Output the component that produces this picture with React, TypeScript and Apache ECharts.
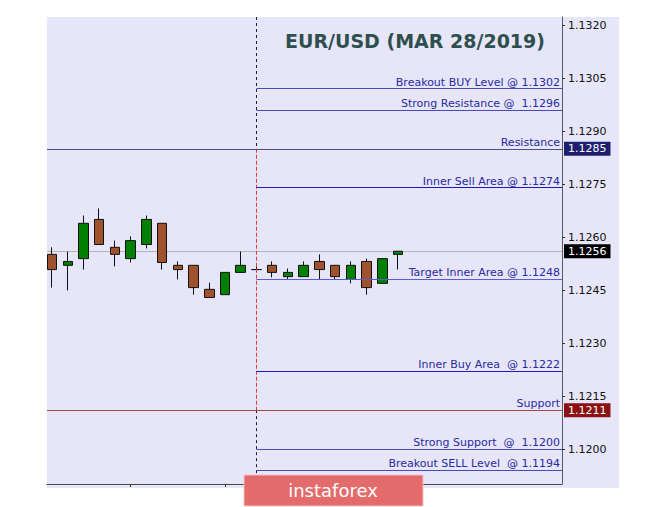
import React, { useEffect, useRef } from "react";
import * as echarts from "echarts";

// Session candles (index on the x axis, OHLC in price units)
const candleIndex = [0, 1, 2, 3, 4, 5, 6, 7, 8, 9, 10, 11, 12, 13, 14, 15, 16, 17, 18, 19, 20, 21, 22];
const opens = [1.12551, 1.1252, 1.12539, 1.1265, 1.12571, 1.12539, 1.12579, 1.12639, 1.1252, 1.1252, 1.12452, 1.12437, 1.125, 1.12508, 1.1252, 1.12488, 1.12488, 1.12531, 1.1252, 1.1248, 1.12531, 1.12469, 1.12551];
const closes = [1.12508, 1.12531, 1.12639, 1.12579, 1.12551, 1.1259, 1.1265, 1.12528, 1.12508, 1.12457, 1.12429, 1.125, 1.1252, 1.12508, 1.125, 1.125, 1.1252, 1.12508, 1.12488, 1.1252, 1.12457, 1.12539, 1.1256];
const lows = [1.12457, 1.12449, 1.12508, 1.12579, 1.12517, 1.12528, 1.12568, 1.12508, 1.1248, 1.12437, 1.12429, 1.12437, 1.125, 1.125, 1.12486, 1.1248, 1.12488, 1.1248, 1.1248, 1.12469, 1.12437, 1.12469, 1.12508];
const highs = [1.12571, 1.12559, 1.12661, 1.12681, 1.1259, 1.12602, 1.12661, 1.12639, 1.12531, 1.1252, 1.12471, 1.125, 1.12559, 1.12517, 1.12531, 1.12511, 1.12531, 1.12551, 1.1252, 1.12531, 1.12539, 1.12539, 1.1256];

// Trading levels drawn from the pivot candle to the right edge
const levelNames = [
  "Breakout BUY Level @ 1.1302",
  "Strong Resistance @  1.1296",
  "Inner Sell Area @ 1.1274",
  "Target Inner Area @ 1.1248",
  "Inner Buy Area  @ 1.1222",
  "Strong Support  @  1.1200",
  "Breakout SELL Level  @ 1.1194",
];
const levelValues = [1.1302, 1.1296, 1.1274, 1.1248, 1.1222, 1.12, 1.1194];

// Full-width reference levels
const resistanceValue = 1.1285;
const supportValue = 1.1211;
const lastPrice = 1.1256;
const pivotIndex = 13;

const yTicks = [1.12, 1.1215, 1.123, 1.1245, 1.126, 1.1275, 1.129, 1.1305, 1.132];
const xTicks = [5, 11, 17, 23];

const FONT = "DejaVu Sans";
const TEXT_BLUE = "#2a2aa2";
const X_MIN = -0.32;
const X_MAX = 32.43;
const Y_MIN = 1.11901;
const Y_MAX = 1.13223;

const levelColor = (i: number) => {
  if (i === 2 || i === 4) return "#1c1cae";
  if (i === 3) return "#5c5cd0";
  return "#4a4ab4";
};

function buildOption(): echarts.EChartsCoreOption {
  const candles = candleIndex.map((x, i) => [x, opens[i], closes[i], lows[i], highs[i]]);

  const levelLines = levelNames.map((name, i) => [
    {
      coord: [pivotIndex, levelValues[i]],
      lineStyle: { color: levelColor(i), width: 1, type: "solid" },
      label: {
        show: true,
        position: "insideEndTop",
        formatter: name,
        color: TEXT_BLUE,
        fontFamily: FONT,
        fontSize: 11,
        distance: [2, 1],
      },
    },
    { coord: [X_MAX, levelValues[i]] },
  ]);

  const pivotSegments = [
    [
      { coord: [pivotIndex, Y_MAX], lineStyle: { color: "#1c1c3c", width: 1, type: [3, 3] } },
      { coord: [pivotIndex, resistanceValue] },
    ],
    [
      { coord: [pivotIndex, resistanceValue], lineStyle: { color: "#e23a3a", width: 1, type: [4, 2] } },
      { coord: [pivotIndex, supportValue] },
    ],
    [
      { coord: [pivotIndex, supportValue], lineStyle: { color: "#1c1c3c", width: 1, type: [3, 3] } },
      { coord: [pivotIndex, Y_MIN] },
    ],
  ];

  const boxLabel = (value: number, bg: string) => ({
    show: true,
    position: "end",
    formatter: value.toFixed(4),
    color: "#ffffff",
    backgroundColor: bg,
    fontFamily: FONT,
    fontSize: 11,
    padding: [2, 4, 1, 4],
    distance: 2,
  });

  const fullLines = [
    {
      yAxis: resistanceValue,
      lineStyle: { color: "#4e4e8a", width: 1, type: "solid" },
      label: {
        show: true,
        position: "insideEndTop",
        formatter: "Resistance",
        color: TEXT_BLUE,
        fontFamily: FONT,
        fontSize: 11,
        distance: [2, 1],
      },
    },
    {
      yAxis: resistanceValue,
      lineStyle: { color: "#4e4e8a", width: 1, type: "solid" },
      label: boxLabel(resistanceValue, "#1e1e6e"),
    },
    {
      yAxis: supportValue,
      lineStyle: { color: "#a04a4a", width: 1, type: "solid" },
      label: {
        show: true,
        position: "insideEndTop",
        formatter: "Support",
        color: TEXT_BLUE,
        fontFamily: FONT,
        fontSize: 11,
        distance: [2, 1],
      },
    },
    {
      yAxis: supportValue,
      lineStyle: { color: "#a04a4a", width: 1, type: "solid" },
      label: boxLabel(supportValue, "#8a1212"),
    },
  ];

  return {
    animation: false,
    grid: { left: 47, top: 17, right: 103, bottom: 23, containLabel: false },
    xAxis: {
      type: "value",
      min: X_MIN,
      max: X_MAX,
      axisLine: { show: true, onZero: false, lineStyle: { color: "#4a4a4a", width: 1 } },
      axisTick: { show: true, customValues: xTicks, length: 3, lineStyle: { color: "#333333" } },
      axisLabel: { show: false },
      splitLine: { show: false },
    },
    yAxis: {
      type: "value",
      position: "right",
      min: Y_MIN,
      max: Y_MAX,
      axisLine: { show: true, onZero: false, lineStyle: { color: "#5a5a66", width: 1 } },
      axisTick: { show: true, customValues: yTicks, length: 3, lineStyle: { color: "#333333" } },
      axisLabel: {
        customValues: yTicks,
        formatter: (v: number) => v.toFixed(4),
        color: "#111111",
        fontFamily: FONT,
        fontSize: 11,
        margin: 6,
      },
      splitLine: { show: false },
    },
    graphic: [
      {
        type: "rect",
        silent: true,
        z: -10,
        shape: { x: 47, y: 17, width: 572, height: 471 },
        style: { fill: "#e6e6f8" },
      },
      {
        type: "text",
        silent: true,
        z: 10,
        x: 415,
        y: 41,
        style: {
          text: "EUR/USD (MAR 28/2019)",
          fill: "#2f4f4f",
          font: `bold 19px "${FONT}"`,
          align: "center",
          verticalAlign: "middle",
        },
      },
      {
        type: "group",
        silent: true,
        z: 100,
        children: [
          {
            type: "rect",
            z: 100,
            shape: { x: 244, y: 475, width: 179, height: 31 },
            style: { fill: "#e36b6b", stroke: "#f2c4c4", lineWidth: 1 },
          },
          {
            type: "text",
            z: 101,
            x: 333,
            y: 490,
            style: {
              text: "instaforex",
              fill: "#ffffff",
              font: `18px "${FONT}"`,
              align: "center",
              verticalAlign: "middle",
            },
          },
        ],
      },
    ],
    series: [
      {
        type: "line",
        data: [],
        z: 1,
        silent: true,
        markLine: {
          z: 1,
          silent: true,
          precision: 6,
          symbol: ["none", "none"],
          animation: false,
          label: { show: false },
          data: [
            {
              yAxis: lastPrice,
              lineStyle: { color: "#b4b4b8", width: 1, type: "solid" },
              label: boxLabel(lastPrice, "#000000"),
            },
          ],
        },
      },
      {
        type: "candlestick",
        z: 2,
        barWidth: 10,
        silent: true,
        data: candles,
        itemStyle: {
          color: "#008000",
          color0: "#a0522d",
          borderColor: "#111111",
          borderColor0: "#111111",
          borderWidth: 1,
        },
        markLine: {
          silent: true,
          precision: 6,
          symbol: ["none", "none"],
          animation: false,
          label: { show: false },
          data: [...pivotSegments, ...fullLines, ...levelLines],
        },
      },
    ],
  };
}

export default function App() {
  const ref = useRef<HTMLDivElement>(null);
  useEffect(() => {
    if (!ref.current) return;
    const chart = echarts.init(ref.current, null, { renderer: "svg" });
    chart.setOption(buildOption());
    return () => chart.dispose();
  }, []);
  return (
    <div
      ref={ref}
      style={{ position: "fixed", left: 0, top: 0, width: 665, height: 507, background: "#ffffff" }}
    />
  );
}
